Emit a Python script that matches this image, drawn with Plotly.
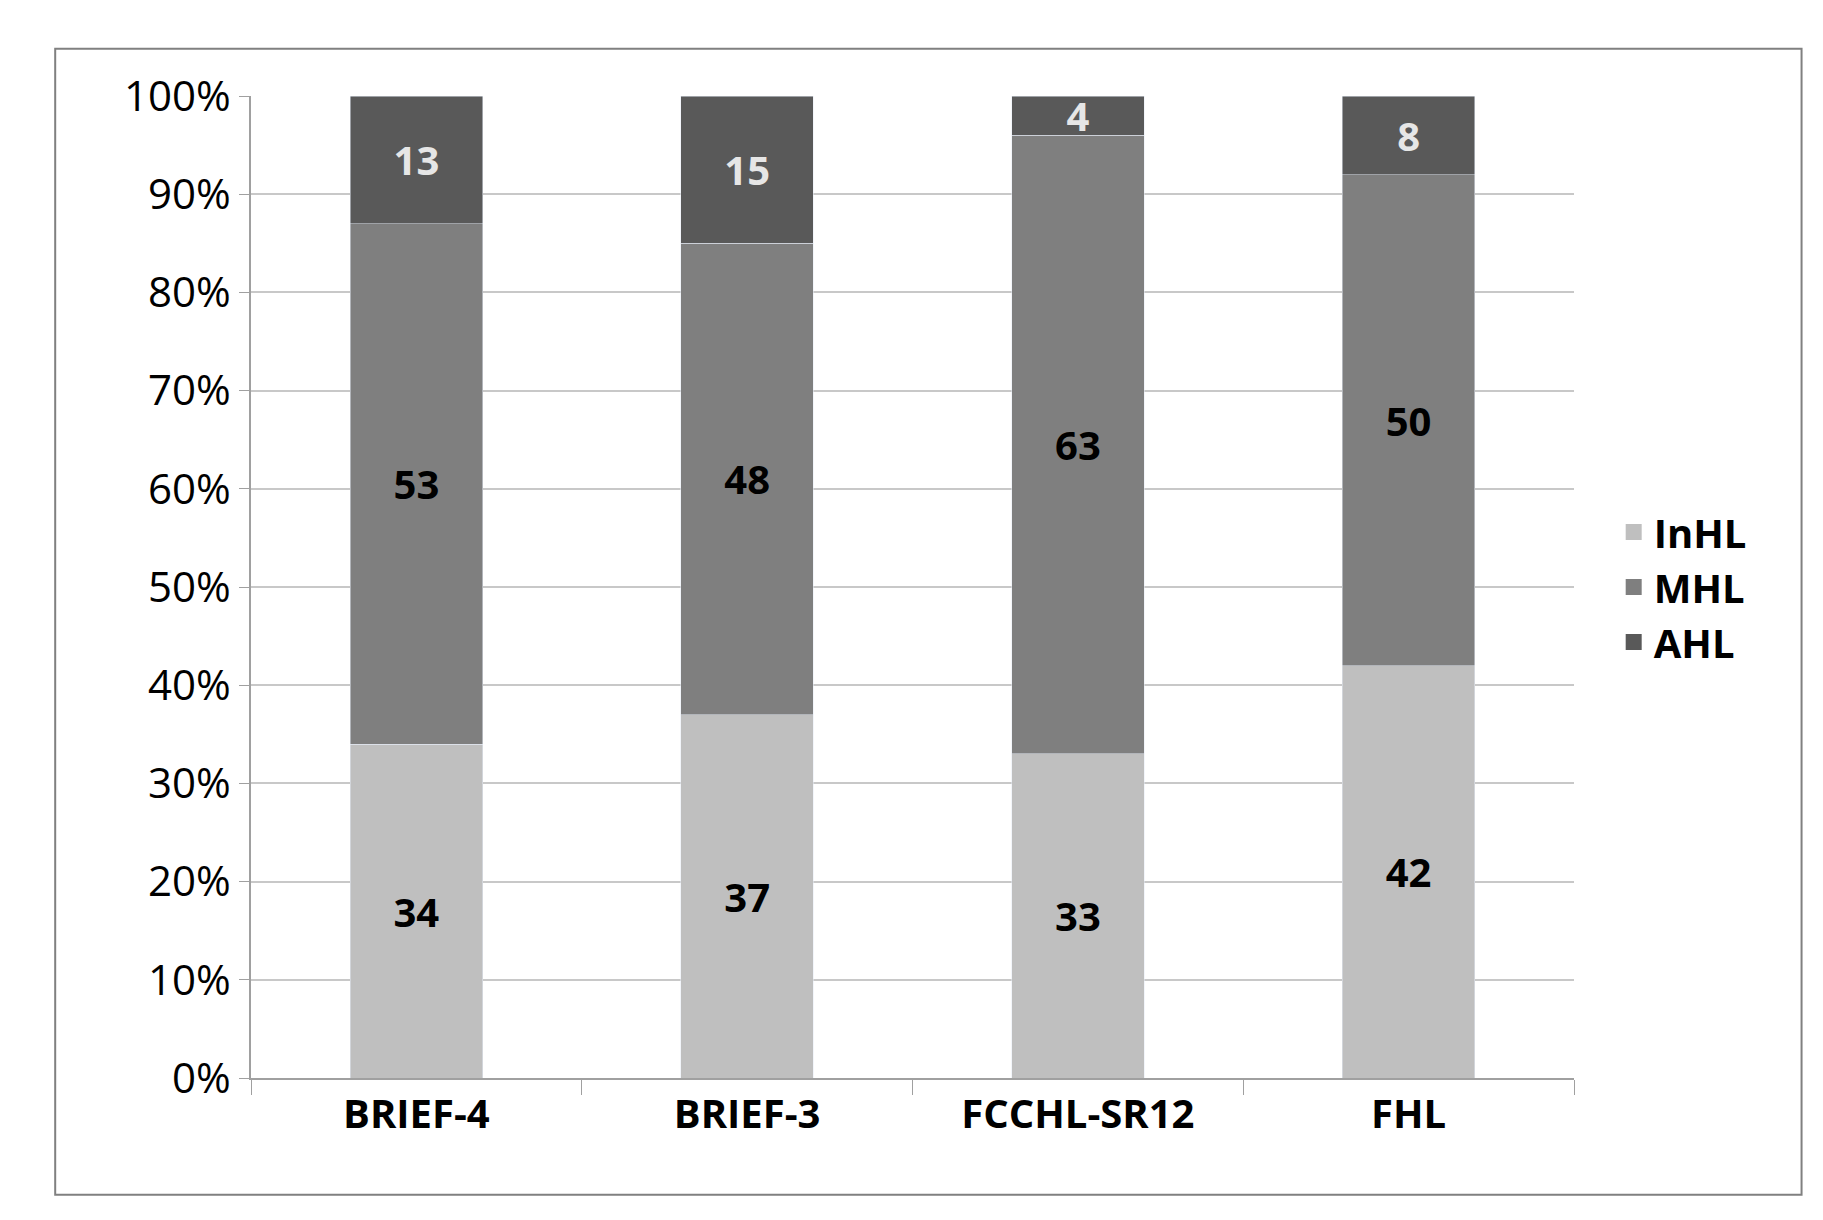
import plotly.graph_objects as go

categories = ["BRIEF-4", "BRIEF-3", "FCCHL-SR12", "FHL"]
inhl = [34, 37, 33, 42]
mhl = [53, 48, 63, 50]
ahl = [13, 15, 4, 8]

series = [
    ("InHL", inhl, "#bfbfbf", "black"),
    ("MHL", mhl, "#7f7f7f", "black"),
    ("AHL", ahl, "#595959", "#e6e6e6"),
]

fig = go.Figure()
for name, vals, color, tcolor in series:
    fig.add_trace(go.Bar(
        name=name, x=categories, y=vals, marker_color=color,
        text=vals, textposition="inside", insidetextanchor="middle",
        textangle=0,
        textfont=dict(size=40, color=tcolor, family="Open Sans", weight="bold"),
        width=0.4, showlegend=False,
    ))

# legend entries with bigger square swatches
for name, vals, color, tcolor in reversed(series):
    fig.add_trace(go.Scatter(
        name=name, x=[None], y=[None], mode="markers",
        marker=dict(symbol="square", size=26, color=color),
    ))

fig.update_layout(
    barmode="stack",
    width=1823, height=1220,
    paper_bgcolor="white", plot_bgcolor="white",
    margin=dict(l=243, r=257, t=88, b=150),
    font=dict(family="Open Sans", color="black"),
    uniformtext=dict(minsize=38, mode="show"),
    legend=dict(x=1.03, y=0.5, yanchor="middle",
                font=dict(size=40, weight="bold"), itemwidth=30,
                tracegroupgap=10),
    bargap=0.6,
)
fig.update_yaxes(
    range=[0, 100], dtick=10, ticksuffix="%",
    tickfont=dict(size=42, family="Open Sans"),
    showgrid=True, gridcolor="#c8c8c8", gridwidth=1.5,
    showline=True, linecolor="#a0a0a0", linewidth=1.5,
    ticks="outside", ticklen=10, tickcolor="#a0a0a0",
)
fig.update_xaxes(
    tickfont=dict(size=40, family="Open Sans", weight="bold"),
    showline=True, linecolor="#a0a0a0", linewidth=1.5,
    ticks="outside", tickson="boundaries", ticklen=15, tickcolor="#a0a0a0",
)
fig.add_shape(type="rect", xref="paper", yref="paper",
              x0=-0.148, x1=1.172, y0=-0.119, y1=1.048,
              line=dict(color="#808080", width=2))

fig.write_html("out.html")
